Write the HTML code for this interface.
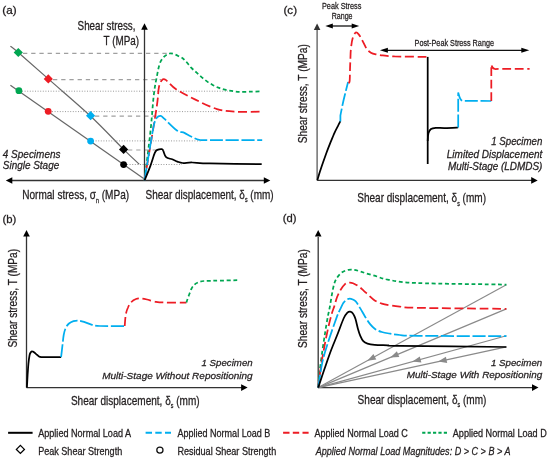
<!DOCTYPE html>
<html><head><meta charset="utf-8"><style>
html,body{margin:0;padding:0;background:#fff;width:550px;height:460px;overflow:hidden}
svg{display:block;filter:blur(0.45px)}
text{font-family:"Liberation Sans",sans-serif;stroke:#231f20;stroke-width:0.28px}
</style></head><body>
<svg width="550" height="460" viewBox="0 0 550 460">
<rect width="550" height="460" fill="#fff"/>
<path d="M10.4,46.2 C11.7,47.2 12.0,47.0 18.3,52.5 C24.6,58.0 36.4,68.4 48.3,78.9 C60.2,89.4 77.4,103.8 89.9,115.5 C102.5,127.2 115.4,141.3 123.6,149.4 C131.8,157.5 136.6,161.7 139.2,164.2" fill="none" stroke="#666" stroke-width="1.2"/>
<line x1="10.4" y1="85.3" x2="143.6" y2="178.6" stroke="#666" stroke-width="1.2"/>
<line x1="23.0" y1="53.4" x2="170.0" y2="53.4" stroke="#a0a0a0" stroke-width="1.2" stroke-dasharray="4.3 3.9"/>
<line x1="53.0" y1="79.7" x2="161.0" y2="79.7" stroke="#a0a0a0" stroke-width="1.2" stroke-dasharray="4.3 3.9"/>
<line x1="95.0" y1="116.2" x2="158.0" y2="116.2" stroke="#a0a0a0" stroke-width="1.2" stroke-dasharray="4.3 3.9"/>
<line x1="128.0" y1="150.0" x2="158.0" y2="150.0" stroke="#a0a0a0" stroke-width="1.2" stroke-dasharray="4.3 3.9"/>
<line x1="22.0" y1="91.2" x2="228.0" y2="91.2" stroke="#9a9a9a" stroke-width="1" stroke-dasharray="1 1.6"/>
<line x1="52.0" y1="111.6" x2="219.0" y2="111.6" stroke="#9a9a9a" stroke-width="1" stroke-dasharray="1 1.6"/>
<line x1="93.0" y1="140.9" x2="201.0" y2="140.9" stroke="#9a9a9a" stroke-width="1" stroke-dasharray="1 1.6"/>
<line x1="127.0" y1="164.5" x2="182.0" y2="164.5" stroke="#9a9a9a" stroke-width="1" stroke-dasharray="1 1.6"/>
<line x1="144.5" y1="180.5" x2="144.5" y2="28.0" stroke="#333" stroke-width="1.3"/>
<polygon points="144.5,23.3 141.2,29.8 147.8,29.8" fill="#000"/>
<line x1="10.0" y1="180.5" x2="266.0" y2="180.5" stroke="#333" stroke-width="1.3"/>
<polygon points="5.8,180.5 12.3,177.2 12.3,183.8" fill="#000"/>
<polygon points="270.3,180.5 263.8,177.2 263.8,183.8" fill="#000"/>
<path d="M144.5,180.5 C145.5,172.1 149.1,144.1 150.6,130.0 C152.1,115.9 152.7,104.4 153.7,95.9 C154.7,87.4 155.2,84.6 156.4,78.8 C157.6,73.0 158.6,65.4 160.8,61.2 C163.0,57.0 166.4,54.2 169.6,53.5 C172.8,52.8 177.3,55.6 180.0,56.8 C182.7,58.0 183.7,59.1 185.5,60.9 C187.3,62.7 189.1,65.5 190.9,67.4 C192.7,69.3 194.6,70.8 196.4,72.4 C198.2,74.1 200.0,75.8 201.8,77.3 C203.6,78.8 205.5,80.3 207.3,81.6 C209.1,82.9 210.9,83.9 212.7,84.9 C214.5,85.9 216.4,86.9 218.2,87.6 C220.0,88.3 221.8,88.8 223.6,89.3 C225.4,89.8 227.3,90.2 229.1,90.6 C230.9,90.9 232.7,91.2 234.5,91.4 C236.3,91.6 237.4,91.8 240.0,91.8 C242.6,91.8 246.4,91.8 250.0,91.7 C253.6,91.6 259.8,91.5 261.8,91.4" fill="none" stroke="#00a651" stroke-width="1.75" stroke-dasharray="3.9 2.7"/>
<path d="M144.5,180.5 C146.5,168.6 154.0,124.6 156.4,109.0 C158.8,93.4 157.9,91.7 159.0,86.7 C160.1,81.8 161.7,80.3 163.0,79.3 C164.3,78.3 164.7,79.2 166.9,80.9 C169.1,82.6 171.3,86.1 176.1,89.3 C180.9,92.5 189.1,96.6 195.9,99.9 C202.7,103.2 210.4,107.1 217.0,109.1 C223.6,111.1 228.0,111.3 235.5,111.7 C243.0,112.1 257.4,111.7 261.8,111.7" fill="none" stroke="#ed1c24" stroke-width="1.75" stroke-dasharray="8.8 3.7"/>
<path d="M144.5,180.5 C145.6,173.8 149.6,149.3 151.2,140.0 C152.8,130.7 153.1,128.2 154.0,124.5 C154.9,120.8 155.5,119.4 156.6,118.0 C157.7,116.6 159.2,115.7 160.6,115.9 C162.0,116.1 162.1,116.8 164.8,119.2 C167.5,121.6 173.3,127.9 176.6,130.2 C179.9,132.5 182.1,131.9 184.4,132.9 C186.7,133.9 188.0,135.2 190.5,136.3 C193.0,137.5 195.9,139.2 199.2,139.8 C202.4,140.5 199.5,140.1 210.0,140.2 C220.5,140.3 253.5,140.2 262.2,140.2" fill="none" stroke="#00aeef" stroke-width="1.75" stroke-dasharray="13 2.7"/>
<path d="M144.5,180.5 C145.5,178.1 148.7,170.5 150.4,165.9 C152.1,161.3 153.6,155.6 154.8,152.9 C156.0,150.2 156.2,150.5 157.4,149.9 C158.6,149.3 160.8,149.0 161.8,149.1 C162.8,149.2 162.5,149.2 163.2,150.6 C163.9,151.9 164.6,155.8 166.1,157.2 C167.6,158.6 170.3,158.6 172.2,159.3 C174.1,160.0 175.7,161.0 177.4,161.6 C179.2,162.2 180.2,162.8 182.7,163.0 C185.2,163.2 187.7,162.4 192.2,162.5 C196.7,162.6 198.1,163.1 209.7,163.4 C221.3,163.7 253.0,164.1 261.7,164.2" fill="none" stroke="#000" stroke-width="1.75"/>
<polygon points="18.3,47.9 22.9,52.5 18.3,57.1 13.7,52.5" fill="#00a651"/>
<polygon points="48.3,74.3 52.9,78.9 48.3,83.5 43.7,78.9" fill="#ed1c24"/>
<polygon points="90.6,111.1 95.2,115.7 90.6,120.3 86.0,115.7" fill="#00aeef"/>
<polygon points="123.6,144.8 128.2,149.4 123.6,154.0 119.0,149.4" fill="#000"/>
<circle cx="18.9" cy="90.7" r="3.4" fill="#00a651"/>
<circle cx="48.2" cy="111.3" r="3.4" fill="#ed1c24"/>
<circle cx="90.6" cy="141.1" r="3.4" fill="#00aeef"/>
<circle cx="123.6" cy="164.6" r="3.4" fill="#000"/>
<text x="2.3" y="14.3" font-size="10.6" text-anchor="start" textLength="14.3" lengthAdjust="spacingAndGlyphs" fill="#231f20">(a)</text>
<text x="135.5" y="30.2" font-size="12.4" text-anchor="end" textLength="57.9" lengthAdjust="spacingAndGlyphs" fill="#231f20">Shear stress,</text>
<text x="139.1" y="44.7" font-size="12.4" text-anchor="end" textLength="35.5" lengthAdjust="spacingAndGlyphs" fill="#231f20">T (MPa)</text>
<text x="2.8" y="157.7" font-size="10.9" text-anchor="start" textLength="57.7" lengthAdjust="spacingAndGlyphs" font-style="italic" style="stroke-width:0.26px" fill="#231f20">4 Specimens</text>
<text x="2.8" y="169.4" font-size="10.9" text-anchor="start" textLength="56.4" lengthAdjust="spacingAndGlyphs" font-style="italic" style="stroke-width:0.26px" fill="#231f20">Single Stage</text>
<text x="22.2" y="199.1" font-size="12.4" textLength="106.9" lengthAdjust="spacingAndGlyphs" fill="#231f20">Normal stress, σ<tspan font-size="6.5" dy="3.6">n</tspan><tspan dy="-3.6"> (MPa)</tspan></text>
<text x="145.6" y="198.5" font-size="12.4" textLength="128" lengthAdjust="spacingAndGlyphs" fill="#231f20">Shear displacement, δ<tspan font-size="6.5" dy="3.6">s</tspan><tspan dy="-3.6"> (mm)</tspan></text>
<line x1="26.5" y1="387.6" x2="26.5" y2="236.0" stroke="#333" stroke-width="1.3"/>
<polygon points="26.5,230.0 23.2,236.5 29.8,236.5" fill="#000"/>
<line x1="26.5" y1="387.6" x2="242.0" y2="387.6" stroke="#333" stroke-width="1.3"/>
<polygon points="247.6,387.6 241.1,384.3 241.1,390.9" fill="#000"/>
<path d="M26.9,387.6 C27.0,385.5 27.4,378.9 27.6,375.0 C27.9,371.1 28.1,367.3 28.4,364.0 C28.7,360.7 29.2,357.0 29.6,355.0 C30.0,353.0 30.6,352.6 31.0,352.0 C31.4,351.4 31.8,351.3 32.3,351.4 C32.8,351.4 33.2,351.7 34.0,352.3 C34.8,352.9 36.3,354.2 37.3,355.0 C38.3,355.8 38.7,356.4 40.0,356.8 C41.3,357.2 41.5,357.1 45.0,357.2 C48.5,357.3 58.4,357.2 61.1,357.2" fill="none" stroke="#000" stroke-width="1.75"/>
<path d="M61.1,357.2 C61.3,355.2 62.1,348.7 62.5,345.0 C62.9,341.3 63.2,337.8 63.7,335.0 C64.2,332.2 64.8,329.9 65.7,328.0 C66.6,326.1 67.7,324.6 69.0,323.5 C70.3,322.4 72.0,321.7 73.5,321.2 C75.0,320.7 76.2,320.5 78.0,320.6 C79.8,320.7 81.7,321.1 84.0,321.8 C86.3,322.5 89.3,324.1 92.0,324.8 C94.7,325.5 94.5,325.8 100.0,326.0 C105.5,326.2 120.6,326.0 124.7,326.0" fill="none" stroke="#00aeef" stroke-width="1.75" stroke-dasharray="13 2.7"/>
<path d="M124.7,326.0 C124.9,324.2 125.2,318.1 125.7,315.0 C126.2,311.9 127.0,309.7 128.0,307.5 C128.9,305.3 130.1,303.4 131.4,302.0 C132.7,300.6 134.4,299.6 136.0,299.0 C137.6,298.4 139.2,298.3 141.0,298.4 C142.8,298.5 144.5,298.9 147.0,299.5 C149.5,300.1 153.0,301.3 156.0,301.8 C159.0,302.3 159.9,302.4 165.0,302.5 C170.1,302.6 182.8,302.5 186.4,302.5" fill="none" stroke="#ed1c24" stroke-width="1.75" stroke-dasharray="8.8 3.7"/>
<path d="M186.4,302.5 C186.6,302.0 186.9,300.9 187.4,299.5 C187.9,298.1 188.7,295.8 189.4,294.0 C190.1,292.2 190.7,290.1 191.6,288.5 C192.5,286.9 193.5,285.4 194.8,284.3 C196.1,283.2 197.7,282.6 199.2,282.0 C200.7,281.4 201.4,281.2 204.0,281.0 C206.6,280.8 209.1,280.8 215.0,280.7 C220.9,280.6 235.4,280.2 239.5,280.1" fill="none" stroke="#00a651" stroke-width="1.75" stroke-dasharray="3.9 2.7"/>
<text x="2.4" y="222.7" font-size="10.6" text-anchor="start" textLength="13.8" lengthAdjust="spacingAndGlyphs" fill="#231f20">(b)</text>
<text x="16.6" y="347.6" font-size="12.2" text-anchor="start" textLength="98.7" lengthAdjust="spacingAndGlyphs" transform="rotate(-90 16.6 347.6)" fill="#231f20">Shear stress, T (MPa)</text>
<text x="252.7" y="366.2" font-size="9.9" text-anchor="end" textLength="51.2" lengthAdjust="spacingAndGlyphs" font-style="italic" style="stroke-width:0.26px" fill="#231f20">1 Specimen</text>
<text x="252.7" y="378.6" font-size="9.9" text-anchor="end" textLength="150.5" lengthAdjust="spacingAndGlyphs" font-style="italic" style="stroke-width:0.26px" fill="#231f20">Multi-Stage Without Repositioning</text>
<text x="70.9" y="404.5" font-size="12.4" textLength="128.7" lengthAdjust="spacingAndGlyphs" fill="#231f20">Shear displacement, δ<tspan font-size="6.5" dy="3.6">s</tspan><tspan dy="-3.6"> (mm)</tspan></text>
<line x1="317.1" y1="180.4" x2="317.1" y2="28.0" stroke="#5a5a5a" stroke-width="1.3"/>
<polygon points="317.1,23.5 313.8,30.0 320.4,30.0" fill="#333"/>
<line x1="317.1" y1="180.4" x2="532.0" y2="180.4" stroke="#333" stroke-width="1.3"/>
<polygon points="537.7,180.4 531.2,177.1 531.2,183.7" fill="#000"/>
<path d="M317.4,180.0 C317.8,178.7 318.9,175.0 319.8,172.0 C320.8,169.0 322.0,165.3 323.1,162.2 C324.2,159.1 325.1,156.6 326.3,153.3 C327.5,150.1 329.0,146.1 330.4,142.7 C331.8,139.3 333.3,135.6 334.5,132.9 C335.7,130.2 336.8,128.2 337.8,126.3 C338.8,124.3 340.0,122.0 340.4,121.2" fill="none" stroke="#000" stroke-width="1.75"/>
<path d="M340.4,121.5 L340.4,115.5  C340.8,113.7 341.8,108.2 342.6,104.5 C343.4,100.8 344.3,97.2 345.2,93.5 C346.1,89.8 347.6,83.9 348.1,82.0" fill="none" stroke="#00aeef" stroke-width="1.75" stroke-dasharray="13 2.7"/>
<path d="M348.3,82.6 C348.5,82.4 349.3,83.6 349.6,81.5 C349.9,79.4 349.9,73.6 350.0,70.0 C350.1,66.4 350.2,63.5 350.4,60.0 C350.5,56.5 350.5,52.6 350.9,49.0 C351.3,45.4 351.8,41.2 352.6,38.5 C353.4,35.8 354.6,33.2 355.7,32.6 C356.8,32.0 357.8,33.3 358.9,34.6 C360.0,35.9 360.9,37.9 362.2,40.2 C363.5,42.5 365.1,46.5 366.5,48.6 C367.9,50.7 369.3,51.7 370.9,52.7 C372.5,53.7 374.3,54.0 376.3,54.4 C378.3,54.8 379.8,55.1 382.8,55.4 C385.8,55.7 387.0,56.1 394.5,56.4 C402.0,56.6 422.2,56.8 427.8,56.9" fill="none" stroke="#ed1c24" stroke-width="1.75" stroke-dasharray="8.8 3.7"/>
<line x1="427.7" y1="56.9" x2="427.7" y2="164.0" stroke="#000" stroke-width="1.75"/>
<path d="M427.7,141.0 C427.8,139.7 427.9,135.0 428.5,133.0 C429.1,131.0 429.8,129.9 431.0,129.0 C432.2,128.1 433.7,128.0 436.0,127.8 C438.3,127.6 441.3,128.1 445.0,128.0 C448.7,128.0 456.0,127.6 458.2,127.5" fill="none" stroke="#000" stroke-width="1.75"/>
<path d="M458.2,127.5 L458.2,92.5 C459,95 459.5,100 462.5,100.9 L491.3,101" fill="none" stroke="#00aeef" stroke-width="1.75" stroke-dasharray="13 2.7"/>
<path d="M491.3,101 L491.3,64.5 C492,67 492.5,68.8 495,69 L529.6,68.9" fill="none" stroke="#ed1c24" stroke-width="1.75" stroke-dasharray="8.8 3.7"/>
<line x1="330.0" y1="26.0" x2="355.0" y2="26.0" stroke="#111" stroke-width="1.3"/>
<polygon points="325.3,26.0 332.8,23.4 332.8,28.6" fill="#000"/>
<polygon points="359.2,26.0 351.7,23.4 351.7,28.6" fill="#000"/>
<line x1="385.0" y1="50.3" x2="524.0" y2="50.3" stroke="#111" stroke-width="1.3"/>
<polygon points="379.9,50.3 387.9,47.8 387.9,52.8" fill="#000"/>
<polygon points="529.3,50.3 521.3,47.8 521.3,52.8" fill="#000"/>
<text x="341.7" y="8.8" font-size="9.5" text-anchor="middle" textLength="39.4" lengthAdjust="spacingAndGlyphs" fill="#231f20">Peak Stress</text>
<text x="342.1" y="18.8" font-size="9.5" text-anchor="middle" textLength="20.8" lengthAdjust="spacingAndGlyphs" fill="#231f20">Range</text>
<text x="454.3" y="46.4" font-size="9.6" text-anchor="middle" textLength="79.4" lengthAdjust="spacingAndGlyphs" fill="#231f20">Post-Peak Stress Range</text>
<text x="283.5" y="14.2" font-size="10.6" text-anchor="start" textLength="13.5" lengthAdjust="spacingAndGlyphs" fill="#231f20">(c)</text>
<text x="306.8" y="143.2" font-size="12.2" text-anchor="start" textLength="99.0" lengthAdjust="spacingAndGlyphs" transform="rotate(-90 306.8 143.2)" fill="#231f20">Shear stress, T (MPa)</text>
<text x="542.4" y="145.4" font-size="10.4" text-anchor="end" textLength="51.2" lengthAdjust="spacingAndGlyphs" font-style="italic" style="stroke-width:0.26px" fill="#231f20">1 Specimen</text>
<text x="542.4" y="157.8" font-size="10.4" text-anchor="end" textLength="95.6" lengthAdjust="spacingAndGlyphs" font-style="italic" style="stroke-width:0.26px" fill="#231f20">Limited Displacement</text>
<text x="542.4" y="169.6" font-size="10.4" text-anchor="end" textLength="94.4" lengthAdjust="spacingAndGlyphs" font-style="italic" style="stroke-width:0.26px" fill="#231f20">Multi-Stage (LDMDS)</text>
<text x="357.2" y="202" font-size="12.4" textLength="128.8" lengthAdjust="spacingAndGlyphs" fill="#231f20">Shear displacement, δ<tspan font-size="6.5" dy="3.6">s</tspan><tspan dy="-3.6"> (mm)</tspan></text>
<line x1="318.2" y1="387.6" x2="318.2" y2="237.0" stroke="#333" stroke-width="1.3"/>
<polygon points="318.2,230.1 314.9,236.6 321.5,236.6" fill="#000"/>
<line x1="318.2" y1="387.6" x2="533.0" y2="387.6" stroke="#333" stroke-width="1.3"/>
<polygon points="538.5,387.6 532.0,384.3 532.0,390.9" fill="#000"/>
<line x1="318.2" y1="387.6" x2="506.4" y2="284.8" stroke="#8a8a8a" stroke-width="1.15"/>
<polygon points="367.4,360.7 376.3,359.4 373.4,353.9" fill="#8a8a8a"/>
<line x1="318.2" y1="387.6" x2="506.4" y2="308.9" stroke="#8a8a8a" stroke-width="1.15"/>
<polygon points="390.3,357.4 399.3,357.0 396.9,351.3" fill="#8a8a8a"/>
<line x1="318.2" y1="387.6" x2="506.4" y2="335.7" stroke="#8a8a8a" stroke-width="1.15"/>
<polygon points="412.4,361.6 421.4,362.4 419.8,356.4" fill="#8a8a8a"/>
<line x1="318.2" y1="387.6" x2="506.4" y2="346.9" stroke="#8a8a8a" stroke-width="1.15"/>
<polygon points="438.2,361.6 447.2,362.9 445.9,356.8" fill="#8a8a8a"/>
<path d="M318.2,387.6 C318.4,385.0 318.9,377.8 319.6,371.7 C320.3,365.6 321.4,357.8 322.3,351.3 C323.2,344.8 324.2,338.7 325.1,332.8 C326.0,326.9 327.1,320.4 327.9,316.1 C328.7,311.8 328.9,311.9 329.8,307.0 C330.7,302.1 332.2,291.8 333.4,287.0 C334.5,282.2 335.2,280.8 336.7,278.3 C338.1,275.9 340.1,273.7 342.1,272.3 C344.1,270.9 346.6,270.2 348.6,269.8 C350.6,269.4 352.2,269.6 354.0,269.8 C355.8,270.0 357.5,270.6 359.5,271.2 C361.5,271.8 363.1,272.4 366.0,273.3 C368.9,274.2 373.4,275.4 377.0,276.5 C380.6,277.6 381.1,278.5 387.7,279.6 C394.3,280.7 397.0,282.2 416.8,283.0 C436.6,283.8 491.5,284.3 506.4,284.6" fill="none" stroke="#00a651" stroke-width="1.75" stroke-dasharray="3.9 2.7"/>
<path d="M318.2,387.6 C318.7,384.0 320.0,372.8 321.0,366.1 C322.0,359.4 323.1,353.8 324.2,347.6 C325.3,341.4 326.7,334.7 327.9,329.1 C329.1,323.6 330.5,318.2 331.6,314.3 C332.7,310.4 333.5,308.8 334.4,305.9 C335.3,303.0 336.1,299.6 337.2,296.8 C338.3,294.0 339.7,291.3 341.0,289.2 C342.3,287.1 343.5,285.4 344.8,284.3 C346.1,283.2 347.2,282.9 348.6,282.7 C350.0,282.5 351.2,282.5 353.0,283.2 C354.8,283.9 357.7,285.7 359.5,287.0 C361.3,288.3 362.3,289.5 363.8,290.8 C365.3,292.1 366.7,293.4 368.5,295.0 C370.3,296.6 372.5,299.0 374.7,300.4 C376.9,301.8 379.2,302.8 381.8,303.6 C384.4,304.4 387.2,304.9 390.2,305.4 C393.2,305.9 395.2,306.2 399.8,306.6 C404.4,307.0 400.0,307.4 417.8,307.8 C435.6,308.2 491.6,308.7 506.4,308.9" fill="none" stroke="#ed1c24" stroke-width="1.75" stroke-dasharray="8.8 3.7"/>
<path d="M318.2,387.6 C318.9,383.4 320.8,369.4 322.3,362.4 C323.8,355.4 325.3,351.2 327.0,345.7 C328.7,340.1 330.8,334.0 332.5,329.1 C334.2,324.2 335.9,319.4 337.1,316.1 C338.4,312.9 338.9,311.9 340.0,309.6 C341.1,307.4 342.4,304.3 343.6,302.6 C344.9,300.9 346.3,299.8 347.5,299.2 C348.7,298.6 349.7,298.5 351.0,298.8 C352.3,299.1 353.9,299.6 355.5,301.2 C357.1,302.8 358.7,305.8 360.3,308.4 C361.9,311.0 363.5,314.1 365.1,316.7 C366.7,319.3 368.3,321.9 369.9,323.9 C371.5,325.9 372.7,327.3 374.7,328.7 C376.7,330.1 379.2,331.2 381.8,332.0 C384.4,332.8 387.2,333.2 390.2,333.7 C393.2,334.2 395.2,334.6 399.8,335.0 C404.4,335.4 400.0,335.6 417.8,335.8 C435.6,336.0 491.6,336.1 506.4,336.2" fill="none" stroke="#00aeef" stroke-width="1.75" stroke-dasharray="13 2.7"/>
<path d="M318.2,387.6 C319.2,384.6 322.1,375.9 324.2,369.8 C326.3,363.8 328.4,357.5 330.7,351.3 C333.0,345.1 336.0,338.3 338.1,332.8 C340.2,327.3 342.1,321.8 343.6,318.5 C345.1,315.2 346.1,313.9 347.2,312.8 C348.3,311.7 349.2,311.5 350.2,311.6 C351.2,311.8 352.2,312.4 353.1,313.7 C354.0,314.9 354.7,316.6 355.5,319.1 C356.3,321.6 357.1,325.9 357.9,328.7 C358.7,331.5 359.4,333.8 360.3,335.9 C361.2,338.0 362.1,339.9 363.3,341.2 C364.5,342.5 365.6,343.0 367.5,343.6 C369.4,344.2 371.3,344.5 374.7,344.8 C378.1,345.1 383.6,345.2 387.8,345.4 C392.0,345.6 380.0,345.5 399.8,345.8 C419.6,346.1 488.6,346.8 506.4,347.0" fill="none" stroke="#000" stroke-width="1.75"/>
<text x="282.8" y="222.4" font-size="10.6" text-anchor="start" textLength="13.7" lengthAdjust="spacingAndGlyphs" fill="#231f20">(d)</text>
<text x="306.9" y="347.9" font-size="12.2" text-anchor="start" textLength="98.7" lengthAdjust="spacingAndGlyphs" transform="rotate(-90 306.9 347.9)" fill="#231f20">Shear stress, T (MPa)</text>
<text x="542.3" y="366.4" font-size="9.9" text-anchor="end" textLength="51.4" lengthAdjust="spacingAndGlyphs" font-style="italic" style="stroke-width:0.26px" fill="#231f20">1 Specimen</text>
<text x="542.3" y="377.9" font-size="9.9" text-anchor="end" textLength="135.6" lengthAdjust="spacingAndGlyphs" font-style="italic" style="stroke-width:0.26px" fill="#231f20">Multi-Stage With Repositioning</text>
<text x="357.6" y="403.6" font-size="12.4" textLength="128.8" lengthAdjust="spacingAndGlyphs" fill="#231f20">Shear displacement, δ<tspan font-size="6.5" dy="3.6">s</tspan><tspan dy="-3.6"> (mm)</tspan></text>
<line x1="8.1" y1="432.8" x2="32.6" y2="432.8" stroke="#000" stroke-width="2"/>
<line x1="145.6" y1="432.8" x2="171.0" y2="432.8" stroke="#00aeef" stroke-width="2" stroke-dasharray="6.4 3.3"/>
<line x1="283.1" y1="432.8" x2="308.6" y2="432.8" stroke="#ed1c24" stroke-width="2" stroke-dasharray="6.4 3.3"/>
<line x1="422.2" y1="432.8" x2="447.4" y2="432.8" stroke="#00a651" stroke-width="2" stroke-dasharray="3.2 2.2"/>
<text x="38.2" y="436.7" font-size="10.4" text-anchor="start" textLength="92.9" lengthAdjust="spacingAndGlyphs" fill="#231f20">Applied Normal Load A</text>
<text x="177.4" y="436.7" font-size="10.4" text-anchor="start" textLength="92.9" lengthAdjust="spacingAndGlyphs" fill="#231f20">Applied Normal Load B</text>
<text x="314.5" y="436.7" font-size="10.4" text-anchor="start" textLength="93.4" lengthAdjust="spacingAndGlyphs" fill="#231f20">Applied Normal Load C</text>
<text x="452.8" y="436.7" font-size="10.4" text-anchor="start" textLength="93.9" lengthAdjust="spacingAndGlyphs" fill="#231f20">Applied Normal Load D</text>
<polygon points="20.4,445.4 24.4,449.4 20.4,453.4 16.4,449.4" fill="none" stroke="#000" stroke-width="1.3"/>
<circle cx="159.9" cy="450.1" r="3.1" fill="none" stroke="#111" stroke-width="1.25"/>
<text x="38.2" y="454.5" font-size="10.4" text-anchor="start" textLength="84.0" lengthAdjust="spacingAndGlyphs" fill="#231f20">Peak Shear Strength</text>
<text x="177.4" y="454.5" font-size="10.4" text-anchor="start" textLength="98.8" lengthAdjust="spacingAndGlyphs" fill="#231f20">Residual Shear Strength</text>
<text x="315.7" y="454.5" font-size="10.3" text-anchor="start" textLength="194.8" lengthAdjust="spacingAndGlyphs" font-style="italic" style="stroke-width:0.26px" fill="#231f20">Applied Normal Load Magnitudes: D &gt; C &gt; B &gt; A</text>
</svg>
</body></html>
